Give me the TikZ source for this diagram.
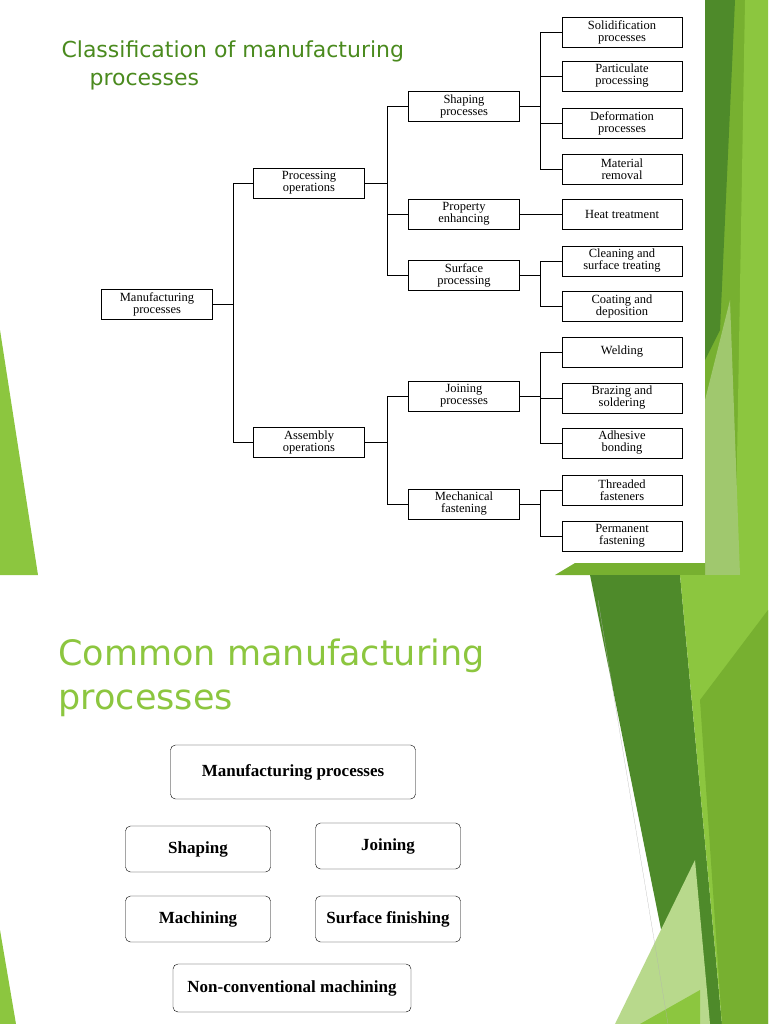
\documentclass[tikz,border=0pt]{standalone}
\usepackage{fontspec}
\setmainfont{Liberation Serif}
\newfontfamily\titlefont{DejaVu Sans}
\begin{document}
\tikzset{
    box/.style={draw, thin, minimum width=111pt, minimum height=30pt, inner sep=1pt, align=center, font=\fontsize{12.5}{12}\selectfont},
    leaf/.style={box, minimum width=120pt},
    rbox/.style={draw, rounded corners=5pt, minimum height=46pt, font=\bfseries\fontsize{17}{19}\selectfont},
    link/.style={thin},
}
\definecolor{lgreen}{HTML}{8CC63F}
\definecolor{mgreen}{HTML}{77B030}
\definecolor{dgreen}{HTML}{4E8A2A}
\definecolor{pgreen}{HTML}{B8D98C}
\definecolor{tgreen}{HTML}{4A8A1E}

\begin{tikzpicture}[x=1pt,y=-1pt]
\useasboundingbox (0,0) rectangle (768,1024);

% decorations top slide
\fill[mgreen] (705,0) rectangle (768,575);
\fill[dgreen] (705,0) -- (735,0) -- (720,330) -- (705,360) -- cycle;
\fill[lgreen] (745,0) -- (768,0) -- (768,575) -- (735,575) -- cycle;
\fill[mgreen!70!white] (705,400) -- (730,300) -- (740,575) -- (705,575) -- cycle;
\fill[mgreen] (555,575) -- (575,563) -- (705,563) -- (705,575) -- cycle;
\fill[lgreen] (0,330) -- (38,575) -- (0,575) -- cycle;

% decorations bottom slide
\fill[dgreen] (590,575) -- (680,575) -- (722,1024) -- (680,1024) -- cycle;
\fill[lgreen] (680,575) -- (768,575) -- (768,1024) -- (722,1024) -- cycle;
\fill[mgreen] (700,700) -- (768,610) -- (768,1024) -- (722,1024) -- cycle;
\fill[pgreen] (615,1024) -- (695,860) -- (710,1024) -- cycle;
\fill[lgreen] (640,1024) -- (700,990) -- (700,1024) -- cycle;
\draw[gray!60, very thin] (598,600) -- (668,1024);
\fill[lgreen] (0,930) -- (16,1024) -- (0,1024) -- cycle;

% top title
\node[anchor=west, text=tgreen, font=\titlefont\fontsize{22}{26}\selectfont] (title1) at (58,51) {Classification of manufacturing};
\node[anchor=west, text=tgreen, font=\titlefont\fontsize{22}{26}\selectfont] (title2) at (86,82) {processes};

% tree
\node[box] (mfg) at (157,304) {Manufacturing\\processes};
\node[box] (proc) at (309,183) {Processing\\operations};
\node[box] (asm) at (309,442) {Assembly\\operations};
\node[box] (shp) at (464,106) {Shaping\\processes};
\node[box] (prop) at (464,214) {Property\\enhancing};
\node[box] (surf) at (464,275) {Surface\\processing};
\node[box] (join) at (464,396) {Joining\\processes};
\node[box] (mech) at (464,504) {Mechanical\\fastening};

\node[leaf] (sol) at (622,32) {Solidification\\processes};
\node[leaf] (par) at (622,76) {Particulate\\processing};
\node[leaf] (def) at (622,123) {Deformation\\processes};
\node[leaf] (mat) at (622,169) {Material\\removal};
\node[leaf] (heat) at (622,214) {Heat treatment};
\node[leaf] (clean) at (622,261) {Cleaning and\\surface treating};
\node[leaf] (coat) at (622,306) {Coating and\\deposition};
\node[leaf] (weld) at (622,352) {Welding};
\node[leaf] (braz) at (622,398) {Brazing and\\soldering};
\node[leaf] (adh) at (622,443) {Adhesive\\bonding};
\node[leaf] (thr) at (622,490) {Threaded\\fasteners};
\node[leaf] (perm) at (622,536) {Permanent\\fastening};

% connectors
\foreach \p/\b/\kids in {mfg/233/{proc,asm}, proc/387/{shp,prop,surf}, asm/387/{join,mech},
    shp/540/{sol,par,def,mat}, surf/540/{clean,coat}, join/540/{weld,braz,adh}, mech/540/{thr,perm}}{
  \coordinate (bus-\p) at (\b,0);
  \draw[link] (\p.east) -- (bus-\p |- \p.east);
  \foreach \k in \kids {
    \draw[link] (bus-\p |- \p.east) -- (bus-\p |- \k.west) -- (\k.west);
  }
}
\draw[link] (prop.east) -- (heat.west);

% bottom title
\node[anchor=west, text=lgreen, font=\titlefont\fontsize{35}{46}\selectfont] (title3) at (55,656) {Common manufacturing};
\node[anchor=west, text=lgreen, font=\titlefont\fontsize{35}{46}\selectfont] (title4) at (55,703) {processes};

% bottom boxes
\node[rbox, minimum width=245pt, minimum height=54pt] (mp) at (293,772) {Manufacturing processes};
\node[rbox, minimum width=145pt] (shaping) at (198,849) {Shaping};
\node[rbox, minimum width=145pt] (joining) at (388,846) {Joining};
\node[rbox, minimum width=145pt] (mach) at (198,919) {Machining};
\node[rbox, minimum width=145pt] (sfin) at (388,919) {Surface finishing};
\node[rbox, minimum width=238pt, minimum height=48pt] (ncm) at (292,988) {Non-conventional machining};
\end{tikzpicture}
\end{document}
